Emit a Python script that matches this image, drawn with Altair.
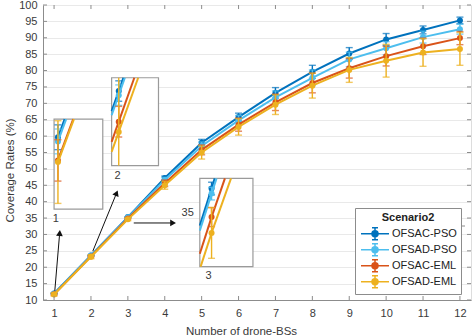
import numpy as np
import pandas as pd
import altair as alt

# ---------------- data ----------------
x_vals = list(range(1, 13))
series_names = ["OFSAC-PSO", "OFSAD-PSO", "OFSAC-EML", "OFSAD-EML"]
series_colors = ["#0072BD", "#4DBEEE", "#D95319", "#EDB120"]

ofsac_pso = [12.0, 23.6, 35.3, 47.2, 58.0, 65.8, 73.2, 79.6, 85.2, 89.5, 92.4, 95.3]
ofsad_pso = [11.95, 23.56, 35.22, 46.6, 57.0, 64.8, 71.8, 77.8, 83.4, 86.8, 90.2, 92.6]
ofsac_eml = [11.72, 23.3, 34.85, 45.6, 55.8, 63.5, 70.3, 76.2, 80.7, 84.4, 87.4, 89.9]
ofsad_eml = [11.7, 23.2, 34.6, 45.0, 55.0, 62.8, 69.6, 75.4, 80.2, 83.0, 85.5, 86.6]

err_ofsac_pso = [0.15, 0.1, 0.1, 0.6, 1.0, 1.2, 1.6, 2.0, 1.8, 1.8, 1.2, 1.0]
err_ofsad_pso = [0.15, 0.1, 0.1, 0.8, 1.2, 1.5, 2.0, 2.4, 2.2, 2.0, 1.8, 1.5]
err_ofsac_eml = [0.25, 0.15, 0.15, 1.0, 1.5, 2.0, 2.5, 3.0, 3.0, 3.0, 2.5, 2.0]
err_ofsad_eml = [0.5, 0.6, 0.4, 1.2, 2.0, 2.5, 3.0, 3.8, 3.8, 5.0, 4.2, 5.0]

y_ticks = list(range(10, 101, 5))

# zoom insets: magnified data window -> box placed in main data coordinates
inset_center = [1, 2, 3]
inset_labels = ["1", "2", "3"]
inset_x_lo = [0.989, 1.983, 2.950]
inset_x_hi = [1.127, 2.095, 3.176]
inset_v_lo = [11.13, 22.87, 34.07]
inset_v_hi = [12.22, 23.73, 35.46]
box_x_lo = [1.0, 2.56, 4.95]
box_x_hi = [2.32, 3.83, 6.39]
box_v_lo = [37.7, 51.0, 20.2]
box_v_hi = [65.2, 77.8, 47.1]
label_x = [1.05, 2.72, 5.19]
label_v = [34.6, 47.8, 17.3]

arrow_x0 = [1.02, 2.05, 3.16]
arrow_v0 = [12.8, 24.9, 33.5]
arrow_x1 = [1.16, 2.73, 4.32]
arrow_v1 = [31.5, 43.6, 33.5]

note_text = ["35"]
note_x = [4.62]
note_v = [36.6]

# ---------------- layout ----------------
W, H = 428, 295
XD = [0.7, 12.3]
YD = [10, 100]
pxx = W / (XD[1] - XD[0])
pxy = H / (YD[1] - YD[0])
FONT = "Liberation Sans"
TXT = "#3a3a3a"

values = [ofsac_pso, ofsad_pso, ofsac_eml, ofsad_eml]
errors = [err_ofsac_pso, err_ofsad_pso, err_ofsac_eml, err_ofsad_eml]

rows = []
for s, vals, errs in zip(series_names, values, errors):
    for x, v, e in zip(x_vals, vals, errs):
        rows.append(dict(series=s, x=x, v=v, lo=v - e, hi=v + e))
main_df = pd.DataFrame(rows)
cap_df = pd.concat([
    main_df[["series", "x", "lo"]].rename(columns={"lo": "v"}),
    main_df[["series", "x", "hi"]].rename(columns={"hi": "v"}),
])


def clip(x0, y0, x1, y1, xmin, xmax, ymin, ymax):
    dx, dy = x1 - x0, y1 - y0
    u0, u1 = 0.0, 1.0
    for p, q in zip([-dx, dx, -dy, dy], [x0 - xmin, xmax - x0, y0 - ymin, ymax - y0]):
        if p == 0:
            if q < 0:
                return None
        else:
            t = q / p
            if p < 0:
                u0 = max(u0, t)
            else:
                u1 = min(u1, t)
    if u0 > u1:
        return None
    return (x0 + u0 * dx, y0 + u0 * dy, x0 + u1 * dx, y0 + u1 * dy)


in_lines, in_err, in_caps, in_pts, boxes = [], [], [], [], []
for i, k in enumerate(inset_center):
    wx0, wx1, wv0, wv1 = inset_x_lo[i], inset_x_hi[i], inset_v_lo[i], inset_v_hi[i]
    bx0, bx1, bv0, bv1 = box_x_lo[i], box_x_hi[i], box_v_lo[i], box_v_hi[i]
    boxes.append(dict(x=bx0, x2=bx1, v=bv0, v2=bv1, lab=inset_labels[i],
                      lx=label_x[i], lv=label_v[i]))
    mx = lambda x: bx0 + (x - wx0) / (wx1 - wx0) * (bx1 - bx0)
    mv = lambda v: bv0 + (v - wv0) / (wv1 - wv0) * (bv1 - bv0)
    for s, vals, errs in zip(series_names, values, errors):
        j = x_vals.index(k)
        for a, b in [(j - 1, j), (j, j + 1)]:
            if a < 0 or b >= len(x_vals):
                continue
            c = clip(x_vals[a], vals[a], x_vals[b], vals[b], wx0, wx1, wv0, wv1)
            if c is None:
                continue
            key = f"{i}-{s}-{a}"
            in_lines.append(dict(series=s, key=key, o=0, x=mx(c[0]), v=mv(c[1])))
            in_lines.append(dict(series=s, key=key, o=1, x=mx(c[2]), v=mv(c[3])))
        v, e = vals[j], errs[j]
        lo, hi = max(v - e, wv0), min(v + e, wv1)
        if lo < hi:
            in_err.append(dict(series=s, x=mx(k), lo=mv(lo), hi=mv(hi)))
        for cv in (v - e, v + e):
            if wv0 <= cv <= wv1:
                in_caps.append(dict(series=s, x=mx(k), v=mv(cv)))
        if wv0 <= v <= wv1:
            in_pts.append(dict(series=s, x=mx(k), v=mv(v)))

in_lines = pd.DataFrame(in_lines)
in_err = pd.DataFrame(in_err)
in_caps = pd.DataFrame(in_caps)
in_pts = pd.DataFrame(in_pts)
box_df = pd.DataFrame(boxes)

arr_lines, arr_heads = [], []
for i in range(len(arrow_x0)):
    dxp = (arrow_x1[i] - arrow_x0[i]) * pxx
    dyp = (arrow_v1[i] - arrow_v0[i]) * pxy
    L = float(np.hypot(dxp, dyp))
    hx = arrow_x1[i] - 3.5 * dxp / L / pxx
    hv = arrow_v1[i] - 3.5 * dyp / L / pxy
    ang = float(np.degrees(np.arctan2(dxp, dyp))) % 360
    arr_lines.append(dict(x=arrow_x0[i], v=arrow_v0[i], x2=hx, v2=hv))
    arr_heads.append(dict(x=hx, v=hv, ang=ang))
arr_lines = pd.DataFrame(arr_lines)
arr_heads = pd.DataFrame(arr_heads)
note_df = pd.DataFrame(dict(x=note_x, v=note_v, t=note_text))
ytick_df = pd.DataFrame(dict(v=y_ticks))
xtick_df = pd.DataFrame(dict(x=x_vals))

# ---------------- encodings ----------------
xscale = alt.Scale(domain=XD, nice=False, zero=False)
yscale = alt.Scale(domain=YD, nice=False, zero=False)
xaxis = alt.Axis(values=x_vals, title="Number of drone-BSs", grid=False, ticks=False,
                 labelPadding=7, domainColor="#8c8c8c", labelColor=TXT, labelFont=FONT,
                 labelFontSize=11, titleFont=FONT, titleFontSize=11.5,
                 titleFontWeight="normal", titleColor=TXT, titlePadding=7, titleX=198)
yaxis = alt.Axis(values=y_ticks, title="Coverage Rates (%)", grid=True, gridColor="#e9e9e9",
                 ticks=False, labelPadding=6, domainColor="#8c8c8c", labelColor=TXT,
                 labelFont=FONT, labelFontSize=11, titleFont=FONT, titleFontSize=11.5,
                 titleFontWeight="normal", titleColor=TXT, titleX=-33, titleY=165,
                 titleBaseline="middle")
X = alt.X("x:Q", scale=xscale, axis=xaxis)
Y = alt.Y("v:Q", scale=yscale, axis=yaxis)

legend_path = ("M-2.33,0H2.33M0,-1V1M-0.5,-1H0.5M-0.5,1H0.5"
               "M0.5,0A0.5,0.5,0,1,1,-0.5,0A0.5,0.5,0,1,1,0.5,0Z")
LEG_X, LEG_Y = 312, 203
legend = alt.Legend(title="Scenario2", orient="none", legendX=LEG_X, legendY=LEG_Y,
                    symbolType=legend_path, symbolSize=144, symbolStrokeWidth=1.5,
                    symbolOffset=9, fillColor="white", strokeColor="#8c8c8c", padding=4,
                    titleAnchor="middle", titleFont=FONT, titleFontSize=11,
                    titleFontWeight="bold", titleColor="#222", titlePadding=3,
                    labelFont=FONT, labelFontSize=11, labelColor="#222",
                    labelOffset=10, rowPadding=0, clipHeight=15.6)
color = alt.Color("series:N", scale=alt.Scale(domain=series_names, range=series_colors),
                  legend=legend)

layers = []
base = alt.Chart(main_df)
for s, c in zip(series_names, series_colors):
    f = alt.datum.series == s
    layers.append(base.mark_rule(strokeWidth=1.4, color=c).encode(
        x=X, y=alt.Y("lo:Q", scale=yscale, axis=yaxis), y2="hi:Q").transform_filter(f))
    layers.append(alt.Chart(cap_df).mark_tick(orient="horizontal", size=7, thickness=1.4,
                                              color=c).encode(x=X, y=Y).transform_filter(f))
    layers.append(base.mark_line(strokeWidth=2).encode(x=X, y=Y, color=color).transform_filter(f))
    layers.append(base.mark_point(filled=True, size=36, opacity=1).encode(
        x=X, y=Y, color=color).transform_filter(f))

# inset boxes
layers.append(alt.Chart(box_df).mark_rect(fill="white", stroke="#9a9a9a", strokeWidth=1.2).encode(
    x=X, x2="x2:Q", y=Y, y2="v2:Q"))
for s, c in zip(series_names, series_colors):
    f = alt.datum.series == s
    layers.append(alt.Chart(in_err).mark_rule(strokeWidth=1.4, color=c).encode(
        x=X, y=alt.Y("lo:Q", scale=yscale, axis=yaxis), y2="hi:Q").transform_filter(f))
    layers.append(alt.Chart(in_caps).mark_tick(orient="horizontal", size=7, thickness=1.4,
                                               color=c).encode(x=X, y=Y).transform_filter(f))
    layers.append(alt.Chart(in_lines).mark_line(strokeWidth=2, color=c).encode(
        x=X, y=Y, detail="key:N", order="o:Q").transform_filter(f))
    layers.append(alt.Chart(in_pts).mark_point(filled=True, size=36, opacity=1, color=c).encode(
        x=X, y=Y).transform_filter(f))

layers.append(alt.Chart(box_df).mark_text(font=FONT, fontSize=11, color=TXT).encode(
    x=alt.X("lx:Q", scale=xscale, axis=xaxis), y=alt.Y("lv:Q", scale=yscale, axis=yaxis),
    text="lab:N"))
layers.append(alt.Chart(note_df).mark_text(font=FONT, fontSize=11, color=TXT).encode(
    x=X, y=Y, text="t:N"))
layers.append(alt.Chart(arr_lines).mark_rule(color="#111", strokeWidth=1).encode(
    x=X, y=Y, x2="x2:Q", y2="v2:Q"))
layers.append(alt.Chart(arr_heads).mark_point(shape="triangle-up", filled=True, size=45,
                                              color="#111", opacity=1).encode(
    x=X, y=Y, angle=alt.Angle("ang:Q", scale=None)))

# inward ticks (box style)
layers.append(alt.Chart(ytick_df).mark_rule(color="#8c8c8c").encode(
    y=Y, x=alt.value(0), x2=alt.value(4)))
layers.append(alt.Chart(ytick_df).mark_rule(color="#8c8c8c").encode(
    y=Y, x=alt.value(W), x2=alt.value(W - 4)))
layers.append(alt.Chart(xtick_df).mark_rule(color="#8c8c8c").encode(
    x=X, y=alt.value(0), y2=alt.value(4)))
layers.append(alt.Chart(xtick_df).mark_rule(color="#8c8c8c").encode(
    x=X, y=alt.value(H), y2=alt.value(H - 4)))

# separator under the legend title
layers.append(alt.Chart(xtick_df.head(1)).mark_rule(color="#8c8c8c", strokeWidth=1).encode(
    x=alt.value(LEG_X), x2=alt.value(LEG_X + 110), y=alt.value(LEG_Y + 18)))

chart = alt.layer(*layers).properties(
    width=W, height=H,
    padding={"left": 43, "top": 5, "right": 3, "bottom": 35},
    autosize=alt.AutoSizeParams(type="none"),
).configure_view(stroke="#8c8c8c", strokeWidth=1).configure(background="white")

chart.save("out.html", embed_options={"renderer": "svg", "actions": False})
